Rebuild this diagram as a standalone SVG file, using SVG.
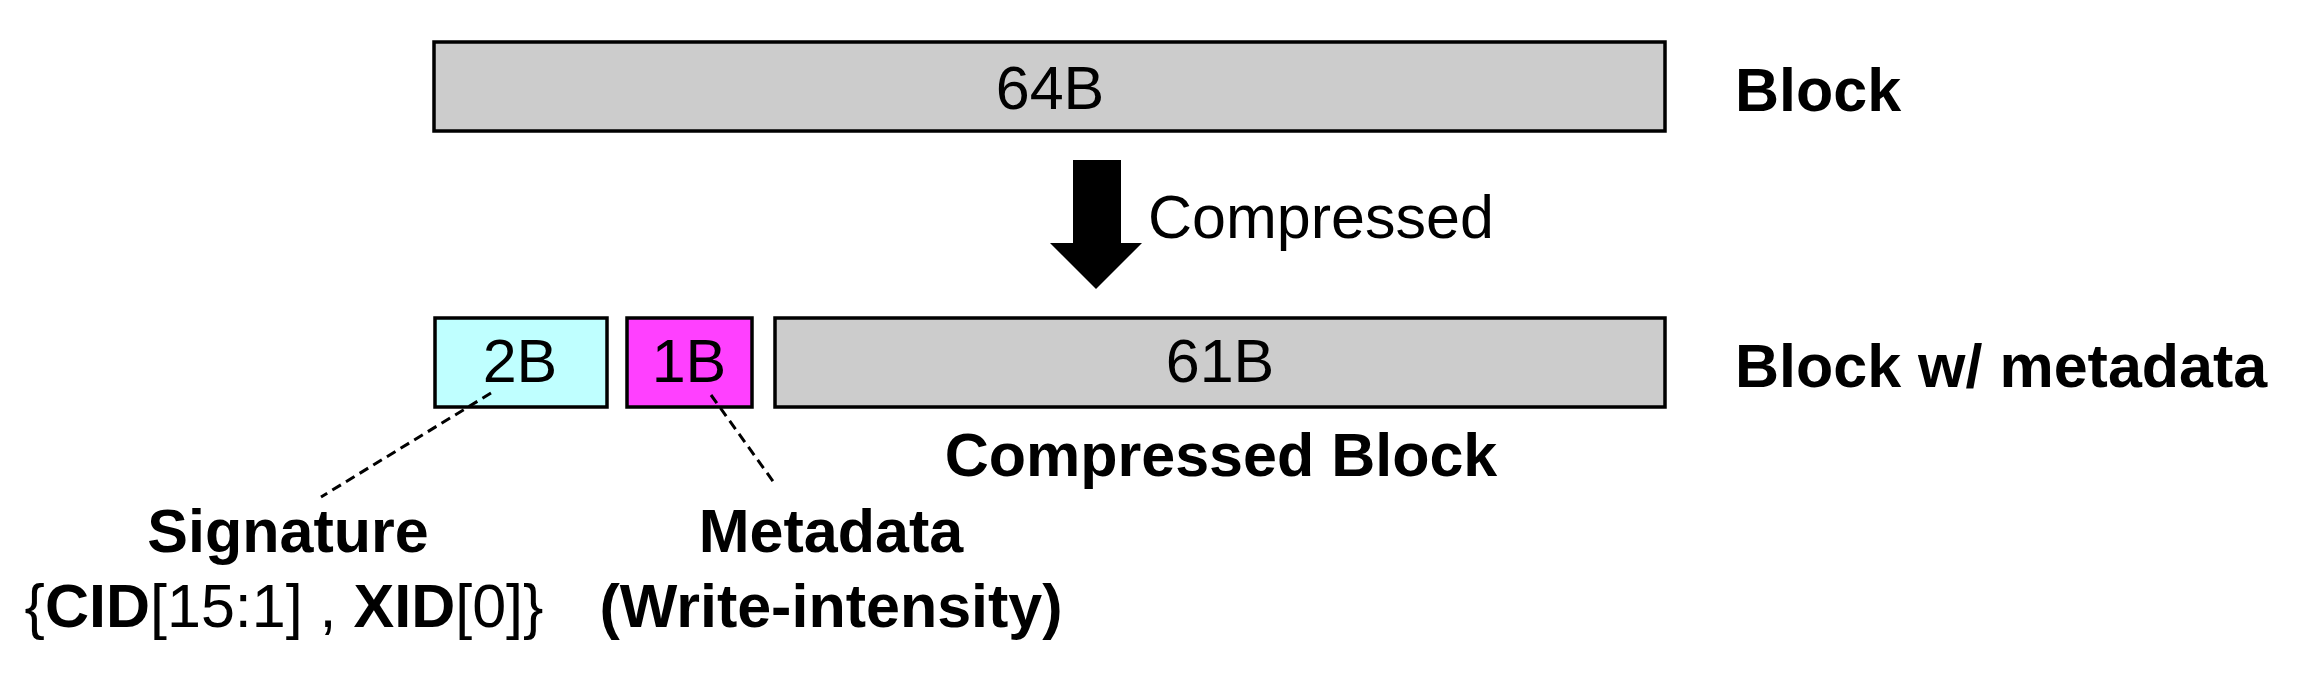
<svg xmlns="http://www.w3.org/2000/svg" width="2307" height="684" viewBox="0 0 2307 684">
<style>
.b{stroke:#000;stroke-width:3.5}
.t{font-family:"Liberation Sans",Arial,sans-serif;font-size:61px;fill:#000}
.bd{font-weight:bold}
.m{text-anchor:middle}
.d{stroke:#000;stroke-width:3;stroke-dasharray:10,6;fill:none}
</style>
<rect width="2307" height="684" fill="#fff"/>
<g id="block"><rect class="b" x="434" y="42" width="1231" height="89" fill="#cccccc"/><text class="t m" x="1050" y="109">64B</text></g>
<text class="t bd" x="1735" y="111">Block</text>
<g id="arrow"><polygon points="1073,160 1121,160 1121,243 1142,243 1096,289 1050,243 1073,243" fill="#000"/><text class="t" x="1148" y="238">Compressed</text></g>
<g id="sig"><rect class="b" x="435" y="318" width="172" height="89" fill="#bfffff"/><text class="t m" x="520" y="382">2B</text></g>
<g id="meta"><rect class="b" x="627" y="318" width="125" height="89" fill="#ff40ff"/><text class="t m" x="689" y="382">1B</text></g>
<g id="comp"><rect class="b" x="775" y="318" width="890" height="89" fill="#cccccc"/><text class="t m" x="1220" y="382">61B</text></g>
<text class="t bd" x="1735" y="387">Block w/ metadata</text>
<text class="t bd m" x="1221" y="476">Compressed Block</text>
<g id="connectors"><line class="d" x1="491" y1="393" x2="321" y2="497"/><line class="d" x1="711" y1="395" x2="775" y2="484"/></g>
<text class="t bd m" x="288" y="552">Signature</text>
<text class="t m" x="284" y="627">{<tspan class="bd">CID</tspan>[15:1] , <tspan class="bd">XID</tspan>[0]}</text>
<text class="t bd m" x="831" y="552">Metadata</text>
<text class="t bd m" x="831" y="627">(Write-intensity)</text>
</svg>
